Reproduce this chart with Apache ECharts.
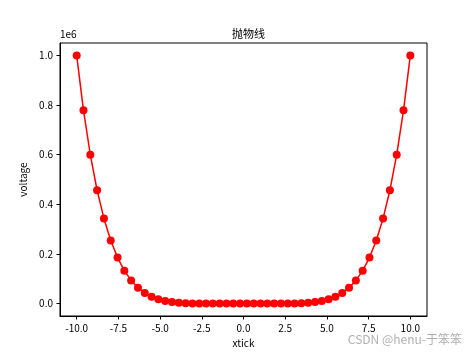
<!DOCTYPE html>
<html>
<head>
<meta charset="utf-8">
<script src="https://cdn.jsdelivr.net/npm/echarts@6/dist/echarts.min.js"></script>
<style>
html,body{margin:0;padding:0;background:#fff;}
#c{width:474px;height:355px;}
</style>
</head>
<body>
<div id="c"></div>
<script>
// x positions (50 evenly spaced samples from -10 to 10)
const xValues = [
  -10.0, -9.592, -9.184, -8.776, -8.367, -7.959, -7.551, -7.143, -6.735, -6.327,
  -5.918, -5.510, -5.102, -4.694, -4.286, -3.878, -3.469, -3.061, -2.653, -2.245,
  -1.837, -1.429, -1.020, -0.612, -0.204,
  0.204, 0.612, 1.020, 1.429, 1.837, 2.245, 2.653, 3.061, 3.469, 3.878,
  4.286, 4.694, 5.102, 5.510, 5.918, 6.327, 6.735, 7.143, 7.551, 7.959,
  8.367, 8.776, 9.184, 9.592, 10.0
];
// voltage values
const voltage = [
  1000000, 778800, 599900, 456700, 343200, 254200, 185400, 132800, 93300, 64100,
  43000, 28000, 17600, 10700, 6200, 3400, 1740, 820, 350, 130,
  38, 9, 1, 0, 0,
  0, 0, 1, 9, 38, 130, 350, 820, 1740, 3400,
  6200, 10700, 17600, 28000, 43000, 64100, 93300, 132800, 185400, 254200,
  343200, 456700, 599900, 778800, 1000000
];
const xTicks = [-10, -7.5, -5, -2.5, 0, 2.5, 5, 7.5, 10];
const yTicks = [0, 200000, 400000, 600000, 800000, 1000000];
const titleText = '抛物线';
const xName = 'xtick';
const yName = 'voltage';
const offsetText = '1e6';
const watermark = 'CSDN @henu-于笨笨';

const FONT = '"Noto Sans CJK SC", sans-serif';
const chart = echarts.init(document.getElementById('c'), null, {renderer: 'canvas'});
chart.setOption({
  animation: false,
  backgroundColor: '#fff',
  title: {
    text: titleText, left: 243.5, top: 23, textAlign: 'center',
    textStyle: {fontFamily: FONT, fontSize: 11, fontWeight: 'normal', color: '#000'}
  },
  grid: {
    left: 60, top: 43, right: 47, bottom: 39,
    show: true, borderColor: '#000', borderWidth: 1, backgroundColor: 'transparent'
  },
  xAxis: {
    type: 'value', min: -11, max: 11,
    name: xName, nameLocation: 'middle', nameGap: 20,
    nameTextStyle: {fontFamily: FONT, fontSize: 10, color: '#000'},
    axisLine: {show: true, onZero: false, lineStyle: {color: '#000', width: 1}},
    axisTick: {show: true, inside: false, length: 3.5, customValues: xTicks, lineStyle: {color: '#000'}},
    axisLabel: {
      customValues: xTicks, margin: 7,
      fontFamily: FONT, fontSize: 10, color: '#000',
      formatter: v => v.toFixed(1)
    },
    splitLine: {show: false}
  },
  yAxis: {
    type: 'value', min: -50000, max: 1050000,
    name: yName, nameLocation: 'middle', nameGap: 30,
    nameTextStyle: {fontFamily: FONT, fontSize: 10, color: '#000'},
    axisLine: {show: true, onZero: false, lineStyle: {color: '#000', width: 1}},
    axisTick: {show: true, inside: false, length: 3.5, customValues: yTicks, lineStyle: {color: '#000'}},
    axisLabel: {
      customValues: yTicks, margin: 7,
      fontFamily: FONT, fontSize: 10, color: '#000',
      formatter: v => (v / 1e6).toFixed(1)
    },
    splitLine: {show: false}
  },
  graphic: [
    {type: 'text', left: 60, top: 29,
     style: {text: offsetText, font: '10px ' + FONT, fill: '#000'}},
    {type: 'text', right: 12, top: 333,
     style: {text: watermark, font: '12px ' + FONT, fill: '#b0b0b0'}}
  ],
  series: [{
    type: 'line',
    data: xValues.map((x, i) => [x, voltage[i]]),
    symbol: 'circle', symbolSize: 8,
    lineStyle: {color: '#ff0000', width: 1.5},
    itemStyle: {color: '#ff0000'},
    clip: false
  }]
});
</script>
</body>
</html>
